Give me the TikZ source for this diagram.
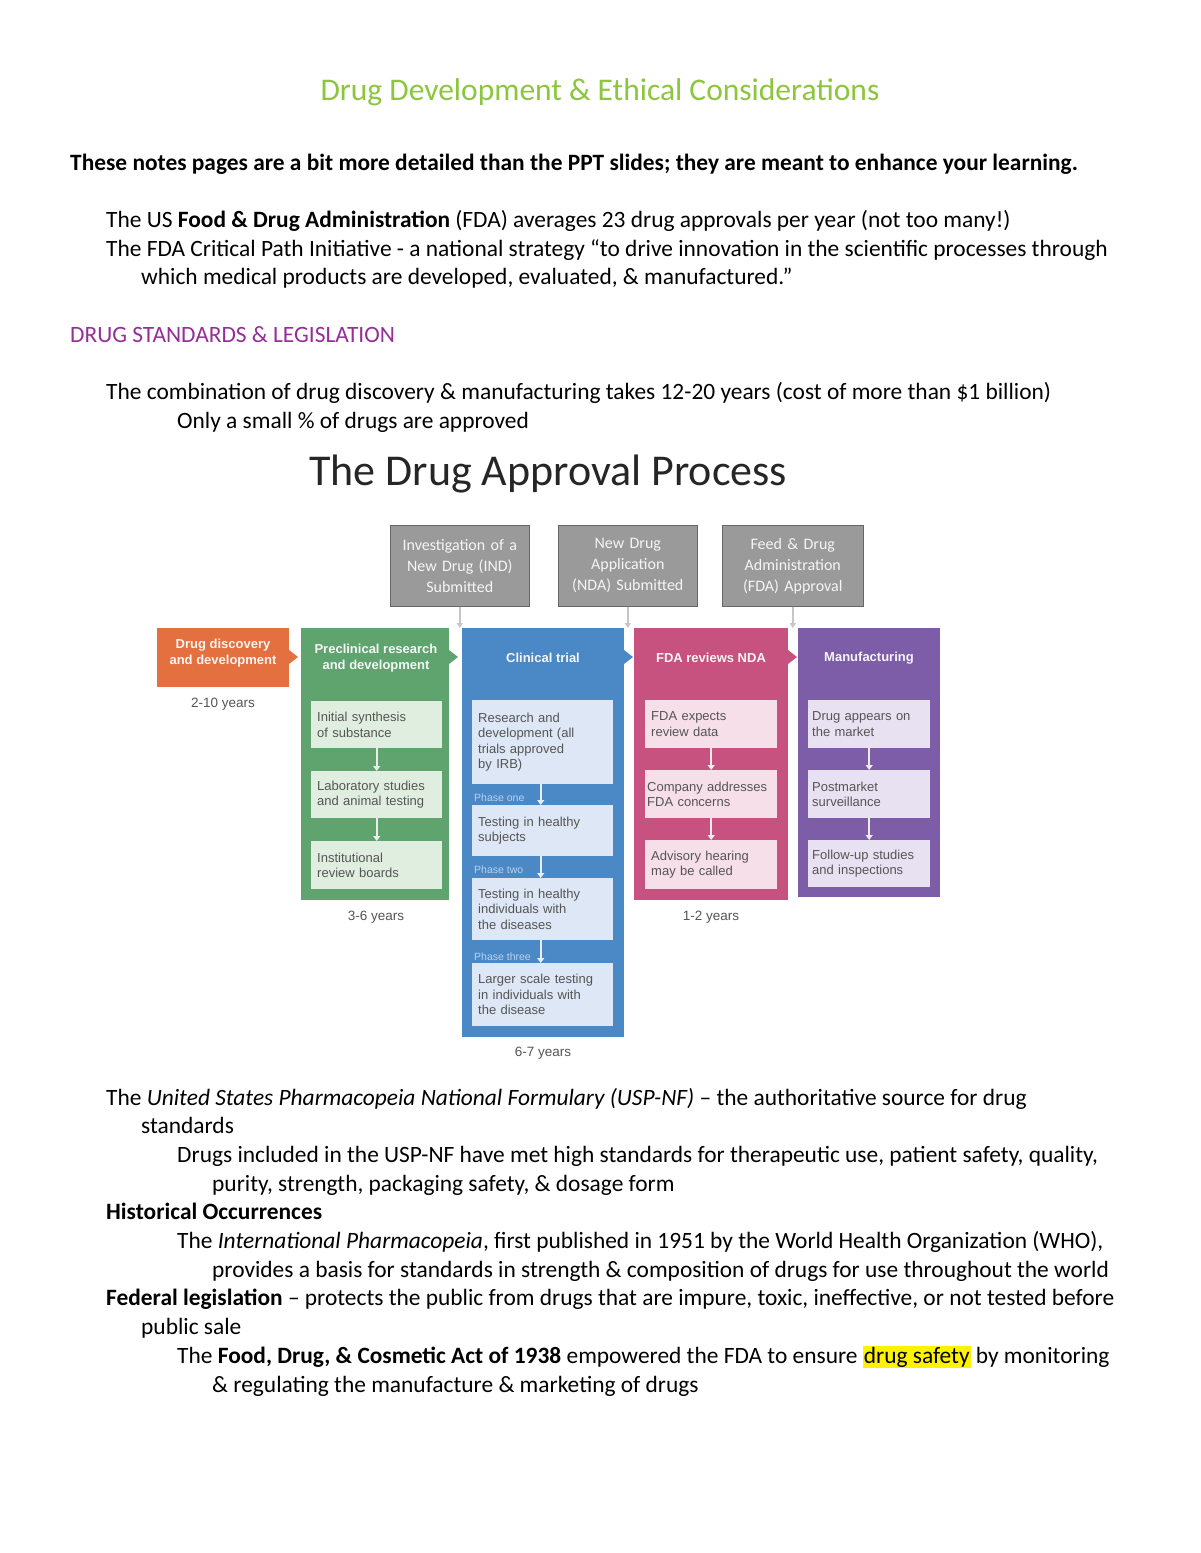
\documentclass[tikz,border=0pt]{standalone}
\usepackage{fontspec}
\setmainfont{Carlito}
\newfontfamily\arialf{Liberation Sans}
\usetikzlibrary{arrows.meta}
\definecolor{ttlgreen}{HTML}{8CC63F}
\definecolor{hdpurple}{HTML}{962E9A}
\definecolor{corange}{HTML}{E4703F}
\definecolor{cgreen}{HTML}{5FA36F}
\definecolor{igreen}{HTML}{E0EEDF}
\definecolor{cblue}{HTML}{4A88C6}
\definecolor{iblue}{HTML}{DDE7F5}
\definecolor{cpink}{HTML}{C8527F}
\definecolor{ipink}{HTML}{F6DFE8}
\definecolor{cpurple}{HTML}{7E5DA8}
\definecolor{ipurple}{HTML}{E7E1F1}
\definecolor{gbox}{HTML}{9A9A9A}
\definecolor{itext}{HTML}{555555}
\definecolor{phase}{HTML}{B9D2EE}
\begin{document}
\begin{tikzpicture}[x=1pt,y=-1pt,
  body/.style={anchor=base west,inner sep=0pt,font=\fontsize{23.4}{26}\selectfont},
  colbox/.style={anchor=north west,inner sep=0pt},
  ibox/.style={anchor=north west,inner sep=0pt,align=left,text=itext,font=\arialf\fontsize{13}{15.5}\selectfont},
  ghead/.style={anchor=north west,fill=gbox,draw=gray!80!black,line width=0.6pt,inner sep=0pt,align=center,text=white!92!gray,font=\fontsize{16}{21}\selectfont},
  chead/.style={align=center,text=white!92!gray,font=\arialf\bfseries\fontsize{13}{16}\selectfont},
  yrs/.style={text=itext,font=\arialf\fontsize{13.5}{16}\selectfont},
  phl/.style={anchor=west,inner sep=0pt,text=phase,font=\arialf\fontsize{10.5}{12}\selectfont},
  iarr/.style={-{Triangle[width=7pt,length=5pt]},white!85!gray,line width=2pt},
  garr/.style={-{Triangle[width=6pt,length=5pt]},gray!45,line width=2pt}]
\useasboundingbox (0,0) rectangle (1200,1553);
\fill[white] (0,0) rectangle (1200,1553);

% header text
\node[anchor=center,text=ttlgreen,font=\fontsize{31.5}{34}\selectfont] (title) at (600,92) {Drug Development \& Ethical Considerations};
\node[body] (t1) at (70,170) {\bfseries These notes pages are a bit more detailed than the PPT slides; they are meant to enhance your learning.};
\node[body] (t2) at (106,227) {The US \textbf{Food \& Drug Administration} (FDA) averages 23 drug approvals per year (not too many!)};
\node[body] (t3) at (106,256) {The FDA Critical Path Initiative - a national strategy “to drive innovation in the scientific processes through};
\node[body] (t4) at (141,284) {which medical products are developed, evaluated, \& manufactured.”};
\node[body,text=hdpurple] (t5) at (70,342) {DRUG STANDARDS \& LEGISLATION};
\node[body] (t6) at (106,399) {The combination of drug discovery \& manufacturing takes 12-20 years (cost of more than \$1 billion)};
\node[body] (t7) at (177,428) {Only a small \% of drugs are approved};

\node[anchor=west,inner sep=0pt,text=black!85,font=\fontsize{44}{48}\selectfont] (dtitle) at (309,474) {The Drug Approval Process};

% gray boxes
\node[ghead,minimum width=139pt,minimum height=81pt,text width=135pt] (ind) at (390,525) {Investigation of a\\New Drug (IND)\\Submitted};
\node[ghead,minimum width=139pt,minimum height=81pt,text width=135pt] (nda) at (558,525) {New Drug\\Application\\(NDA) Submitted};
\node[ghead,minimum width=141pt,minimum height=81pt,text width=137pt] (fda) at (722,525) {Feed \& Drug\\Administration\\(FDA) Approval};

% columns
\node[colbox,fill=corange,minimum width=132pt,minimum height=59pt] (orange) at (157,628) {};
\node[colbox,fill=cgreen,minimum width=148pt,minimum height=272pt] (green) at (301,628) {};
\node[colbox,fill=cblue,minimum width=162pt,minimum height=409pt] (blue) at (462,628) {};
\node[colbox,fill=cpink,minimum width=154pt,minimum height=272pt] (pink) at (634,628) {};
\node[colbox,fill=cpurple,minimum width=142pt,minimum height=269pt] (purple) at (798,628) {};

% notches
\fill[corange] (289,650) -- (298,657) -- (289,664) -- cycle;
\fill[cgreen] (449,650) -- (458,657) -- (449,664) -- cycle;
\fill[cblue] (624,650) -- (633,657) -- (624,664) -- cycle;
\fill[cpink] (788,650) -- (797,657) -- (788,664) -- cycle;

% gray arrows
\draw[garr] (ind.south) -- (ind.south |- blue.north);
\draw[garr] (nda.south) -- (nda.south |- pink.north);
\draw[garr] (fda.south) -- (fda.south |- purple.north);

% headers
\node[chead] (hor) at (223,653) {Drug discovery\\and development};
\node[chead] (hgr) at (376,658) {Preclinical research\\and development};
\node[chead] (hbl) at (543,658) {Clinical trial};
\node[chead] (hpk) at (711,658) {FDA reviews NDA};
\node[chead] (hpu) at (869,658) {Manufacturing};

% green inner
\node[ibox,fill=igreen,minimum width=131pt,minimum height=47pt,text width=119pt,inner xsep=6pt] (g1) at (311,701) {Initial synthesis\\of substance};
\node[ibox,fill=igreen,minimum width=131pt,minimum height=47pt,text width=119pt,inner xsep=6pt] (g2) at (311,771) {Laboratory studies\\and animal testing};
\node[ibox,fill=igreen,minimum width=131pt,minimum height=48pt,text width=119pt,inner xsep=6pt] (g3) at (311,841) {Institutional\\review boards};
\draw[iarr] (g1) -- (g2);
\draw[iarr] (g2) -- (g3);

% blue inner
\node[ibox,fill=iblue,minimum width=141pt,minimum height=84pt,text width=129pt,inner xsep=6pt] (b1) at (472,700) {Research and\\development (all\\trials approved\\by IRB)};
\node[ibox,fill=iblue,minimum width=141pt,minimum height=51pt,text width=129pt,inner xsep=6pt] (b2) at (472,805) {Testing in healthy\\subjects};
\node[ibox,fill=iblue,minimum width=141pt,minimum height=62pt,text width=129pt,inner xsep=6pt] (b3) at (472,878) {Testing in healthy\\individuals with\\the diseases};
\node[ibox,fill=iblue,minimum width=141pt,minimum height=63pt,text width=129pt,inner xsep=6pt] (b4) at (472,963) {Larger scale testing\\in individuals with\\the disease};
\draw[iarr] ([xshift=-2pt]b1.south) -- ([xshift=-2pt]b2.north);
\draw[iarr] ([xshift=-2pt]b2.south) -- ([xshift=-2pt]b3.north);
\draw[iarr] ([xshift=-2pt]b3.south) -- ([xshift=-2pt]b4.north);
\node[phl] (p1) at (474,798) {Phase one};
\node[phl] (p2) at (474,870) {Phase two};
\node[phl] (p3) at (474,957) {Phase three};

% pink inner
\node[ibox,fill=ipink,minimum width=132pt,minimum height=48pt,text width=120pt,inner xsep=6pt] (k1) at (645,700) {FDA expects\\review data};
\node[ibox,fill=ipink,minimum width=132pt,minimum height=48pt,text width=128pt,inner xsep=2pt] (k2) at (645,770) {Company addresses\\FDA concerns};
\node[ibox,fill=ipink,minimum width=132pt,minimum height=49pt,text width=120pt,inner xsep=6pt] (k3) at (645,840) {Advisory hearing\\may be called};
\draw[iarr] (k1) -- (k2);
\draw[iarr] (k2) -- (k3);

% purple inner
\node[ibox,fill=ipurple,minimum width=122pt,minimum height=48pt,text width=114pt,inner xsep=4pt] (m1) at (808,700) {Drug appears on\\the market};
\node[ibox,fill=ipurple,minimum width=122pt,minimum height=48pt,text width=114pt,inner xsep=4pt] (m2) at (808,770) {Postmarket\\surveillance};
\node[ibox,fill=ipurple,minimum width=122pt,minimum height=47pt,text width=114pt,inner xsep=4pt] (m3) at (808,840) {Follow-up studies\\and inspections};
\draw[iarr] (m1) -- (m2);
\draw[iarr] (m2) -- (m3);

% years
\node[yrs] (y1) at (223,704) {2-10 years};
\node[yrs] (y2) at (376,917) {3-6 years};
\node[yrs] (y3) at (543,1053) {6-7 years};
\node[yrs] (y4) at (711,917) {1-2 years};

% bottom text
\node[body] (u1) at (106,1105) {The \textit{United States Pharmacopeia National Formulary (USP-NF)} – the authoritative source for drug};
\node[body] (u2) at (141,1133) {standards};
\node[body] (u3) at (177,1162) {Drugs included in the USP-NF have met high standards for therapeutic use, patient safety, quality,};
\node[body] (u4) at (212,1191) {purity, strength, packaging safety, \& dosage form};
\node[body] (u5) at (106,1219) {\bfseries Historical Occurrences};
\node[body] (u6) at (177,1248) {The \textit{International Pharmacopeia}, first published in 1951 by the World Health Organization (WHO),};
\node[body] (u7) at (212,1277) {provides a basis for standards in strength \& composition of drugs for use throughout the world};
\node[body] (u8) at (106,1305) {\textbf{Federal legislation} – protects the public from drugs that are impure, toxic, ineffective, or not tested before};
\node[body] (u9) at (141,1334) {public sale};
\node[body] (u10) at (177,1363) {The \textbf{Food, Drug, \& Cosmetic Act of 1938} empowered the FDA to ensure {\setlength{\fboxsep}{1pt}\colorbox{yellow}{drug safety}} by monitoring};
\node[body] (u11) at (212,1392) {\& regulating the manufacture \& marketing of drugs};
\end{tikzpicture}
\end{document}
